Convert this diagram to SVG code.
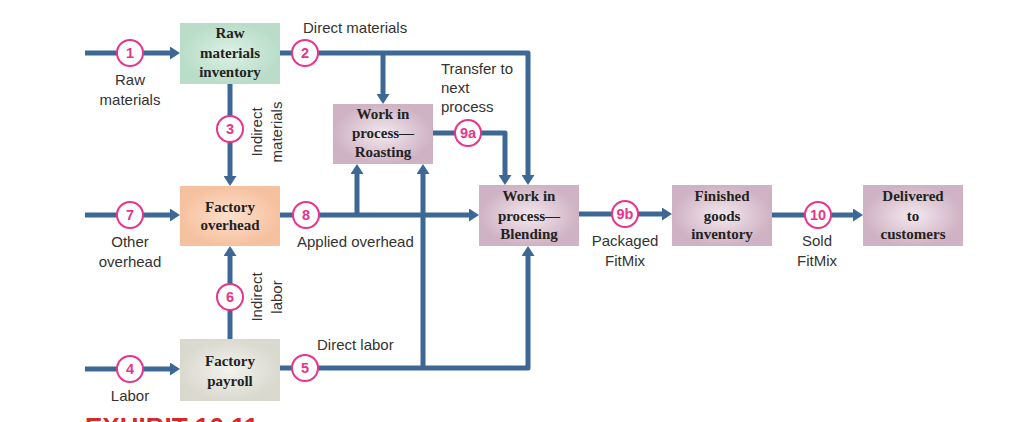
<svg xmlns="http://www.w3.org/2000/svg" width="1024" height="422" viewBox="0 0 1024 422">
<style>
.ln{fill:none;stroke:#3d6895;stroke-width:5;stroke-linejoin:round}
.ar{marker-end:url(#ah)}
.nt{font-family:"Liberation Serif","Times New Roman",serif;font-weight:bold;font-size:15px;fill:#222;text-anchor:middle}
.lb{font-family:"Liberation Sans",Arial,sans-serif;font-size:15px;fill:#333}
.c{text-anchor:middle}
.num circle{fill:#fff;stroke:#e8348b;stroke-width:2}
.num text{font-family:"Liberation Sans",Arial,sans-serif;font-weight:bold;font-size:14.5px;fill:#e8348b;text-anchor:middle}
</style>
<defs>
<marker id="ah" viewBox="0 0 10 13" refX="4" refY="6.5" markerWidth="10" markerHeight="13" markerUnits="userSpaceOnUse" orient="auto">
<path d="M0,0 L10,6.5 L0,13 z" fill="#3d6895"/>
</marker>
<radialGradient id="gGreen"><stop offset="0" stop-color="#dcf1e5"/><stop offset="1" stop-color="#b9ddc8"/></radialGradient>
<radialGradient id="gMauve"><stop offset="0" stop-color="#f3e8ee"/><stop offset="1" stop-color="#cfb2c3"/></radialGradient>
<radialGradient id="gPeach"><stop offset="0" stop-color="#fde0cc"/><stop offset="1" stop-color="#f6c19f"/></radialGradient>
<radialGradient id="gGray"><stop offset="0" stop-color="#f3f3ee"/><stop offset="1" stop-color="#d9d9cf"/></radialGradient>
</defs>

<g id="connectors">
<path class="ln ar" d="M85,53 H174"/>
<path class="ln ar" d="M280,53 H528 V179"/>
<path class="ln ar" d="M383,53 V98"/>
<path class="ln ar" d="M230,84 V180"/>
<path class="ln ar" d="M85,215 H174"/>
<path class="ln ar" d="M280,215 H473"/>
<path class="ln ar" d="M357,215 V170"/>
<path class="ln ar" d="M85,369 H174"/>
<path class="ln ar" d="M280,368 H528 V252"/>
<path class="ln ar" d="M423,368 V170"/>
<path class="ln ar" d="M230,339 V252"/>
<path class="ln ar" d="M433,133 H505 V179"/>
<path class="ln ar" d="M579,214 H666"/>
<path class="ln ar" d="M772,215 H857"/>
</g>

<g id="n1" class="num"><circle cx="130" cy="53" r="13"/><text x="130" y="58">1</text></g>
<g id="n2" class="num"><circle cx="305" cy="53" r="13"/><text x="305" y="58">2</text></g>
<g id="n3" class="num"><circle cx="230" cy="129" r="13"/><text x="230" y="134">3</text></g>
<g id="n4" class="num"><circle cx="130" cy="369" r="13"/><text x="130" y="374">4</text></g>
<g id="n5" class="num"><circle cx="305" cy="368" r="13"/><text x="305" y="373">5</text></g>
<g id="n6" class="num"><circle cx="230" cy="297" r="13"/><text x="230" y="302">6</text></g>
<g id="n7" class="num"><circle cx="130" cy="215" r="13"/><text x="130" y="220">7</text></g>
<g id="n8" class="num"><circle cx="306" cy="215" r="13"/><text x="306" y="220">8</text></g>
<g id="n9a" class="num"><circle cx="468" cy="133" r="13"/><text x="468" y="138">9a</text></g>
<g id="n9b" class="num"><circle cx="625" cy="214" r="13"/><text x="625" y="219">9b</text></g>
<g id="n10" class="num"><circle cx="818" cy="215" r="13"/><text x="818" y="220">10</text></g>

<g id="raw-materials-inventory">
<rect x="180" y="23" width="100" height="61" fill="url(#gGreen)"/>
<text class="nt" x="230" y="38">Raw</text>
<text class="nt" x="230" y="58">materials</text>
<text class="nt" x="230" y="77">inventory</text>
</g>
<g id="factory-overhead">
<rect x="180" y="186" width="100" height="60" fill="url(#gPeach)"/>
<text class="nt" x="230" y="212">Factory</text>
<text class="nt" x="230" y="230">overhead</text>
</g>
<g id="factory-payroll">
<rect x="180" y="339" width="100" height="62" fill="url(#gGray)"/>
<text class="nt" x="230" y="366">Factory</text>
<text class="nt" x="230" y="386">payroll</text>
</g>
<g id="wip-roasting">
<rect x="333" y="104" width="100" height="60" fill="url(#gMauve)"/>
<text class="nt" x="383" y="119">Work in</text>
<text class="nt" x="383" y="138">process—</text>
<text class="nt" x="383" y="157">Roasting</text>
</g>
<g id="wip-blending">
<rect x="479" y="185" width="100" height="61" fill="url(#gMauve)"/>
<text class="nt" x="529" y="201">Work in</text>
<text class="nt" x="529" y="221">process—</text>
<text class="nt" x="529" y="239">Blending</text>
</g>
<g id="finished-goods">
<rect x="672" y="185" width="100" height="61" fill="url(#gMauve)"/>
<text class="nt" x="722" y="201">Finished</text>
<text class="nt" x="722" y="221">goods</text>
<text class="nt" x="722" y="239">inventory</text>
</g>
<g id="delivered">
<rect x="863" y="185" width="100" height="61" fill="url(#gMauve)"/>
<text class="nt" x="913" y="201">Delivered</text>
<text class="nt" x="913" y="221">to</text>
<text class="nt" x="913" y="239">customers</text>
</g>

<g id="labels">
<text class="lb c" x="130" y="85">Raw</text>
<text class="lb c" x="130" y="105">materials</text>
<text class="lb" x="303" y="33">Direct materials</text>
<text class="lb" x="441" y="74">Transfer to</text>
<text class="lb" x="441" y="93">next</text>
<text class="lb" x="441" y="112">process</text>
<text class="lb" transform="translate(262,132) rotate(-90)" text-anchor="middle">Indirect</text>
<text class="lb" transform="translate(282,132) rotate(-90)" text-anchor="middle">materials</text>
<text class="lb c" x="130" y="247">Other</text>
<text class="lb c" x="130" y="267">overhead</text>
<text class="lb" x="297" y="247">Applied overhead</text>
<text class="lb c" x="625" y="246">Packaged</text>
<text class="lb c" x="625" y="266">FitMix</text>
<text class="lb c" x="817" y="246">Sold</text>
<text class="lb c" x="817" y="266">FitMix</text>
<text class="lb" transform="translate(262,297) rotate(-90)" text-anchor="middle">Indirect</text>
<text class="lb" transform="translate(282,297) rotate(-90)" text-anchor="middle">labor</text>
<text class="lb" x="317" y="350">Direct labor</text>
<text class="lb c" x="130" y="401">Labor</text>
<text x="85" y="436" font-family="Liberation Sans,Arial,sans-serif" font-weight="bold" font-size="26" fill="#d42a2a">EXHIBIT 16.11</text>
</g>
</svg>
